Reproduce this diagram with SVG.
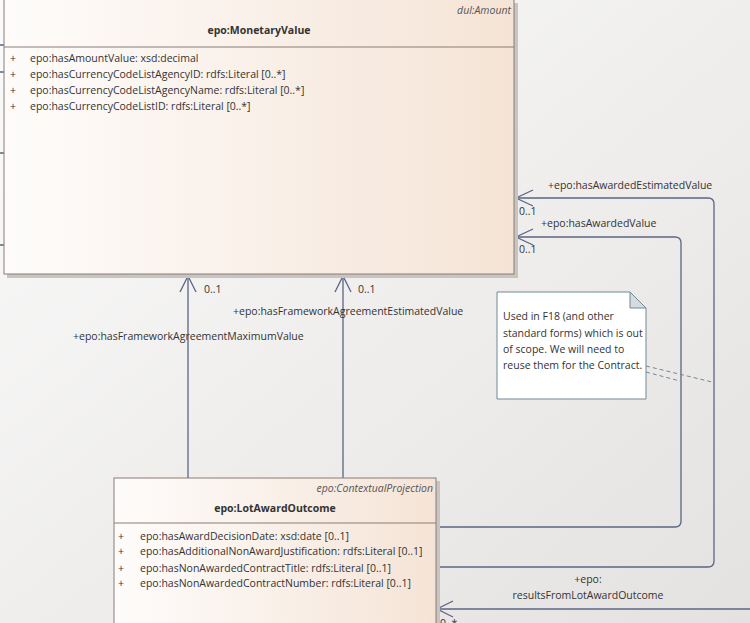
<svg xmlns="http://www.w3.org/2000/svg" width="750" height="623" viewBox="0 0 750 623">
<defs>
<linearGradient id="bg" x1="0" y1="0" x2="1" y2="1"><stop offset="0" stop-color="#fbfbfb"/><stop offset="1" stop-color="#e4e2e0"/></linearGradient>
<linearGradient id="cls" x1="0" y1="0" x2="1" y2="0"><stop offset="0" stop-color="#fefcfb"/><stop offset="1" stop-color="#f5e4d6"/></linearGradient>
<style>
text{font-family:"Open Sans","Liberation Sans",sans-serif;font-size:10.5px;fill:#333}
.b{font-weight:bold}
.i{font-style:italic;fill:#555}
.box{fill:url(#cls);stroke:#8a7c76;stroke-width:1}
.sh{fill:#c8c4c0}
.c{fill:none;stroke:#5b6684;stroke-width:1.3}
.ah{fill:none;stroke:#5b6684;stroke-width:1.3}
</style>
</defs>
<rect width="750" height="623" fill="url(#bg)"/>
<g id="connectors">
<path class="c" d="M188 478V276M343 478V276"/>
<path class="ah" d="M180 292L188 276L196 292M335 292L343 276L351 292"/>
<path class="c" d="M436 527H675Q681 527 681 521V243Q681 237 675 237H516"/>
<path class="c" d="M436 567H708Q714 567 714 561V204Q714 198 708 198H516"/>
<path class="ah" d="M533 229L516 237L533 245M533 190L516 198L533 206"/>
<path class="c" d="M750 609H437"/>
<path class="ah" d="M453 601L437 609L453 617"/>
<path d="M646 366L712 382M646 372L680 381" stroke="#6f8a96" stroke-width="1" stroke-dasharray="4,3" fill="none"/>
<path d="M0 45H4M0 72H4M0 153H4M0 245H4" stroke="#5b6684" stroke-width="1.5"/>
<text x="204" y="293">0..1</text>
<text x="358" y="293">0..1</text>
<text x="233" y="315">+epo:hasFrameworkAgreementEstimatedValue</text>
<text x="73" y="340">+epo:hasFrameworkAgreementMaximumValue</text>
<text x="548" y="189">+epo:hasAwardedEstimatedValue</text>
<text x="519" y="215">0..1</text>
<text x="541" y="227">+epo:hasAwardedValue</text>
<text x="519" y="253">0..1</text>
<text x="588" y="583" text-anchor="middle">+epo:</text>
<text x="588" y="599" text-anchor="middle">resultsFromLotAwardOutcome</text>
<text x="440" y="627">0..*</text>
</g>
<g id="MonetaryValue">
<rect class="sh" x="7" y="3" width="511" height="275"/>
<rect class="box" x="4" y="-1" width="510" height="275"/>
<line x1="4" y1="47" x2="514" y2="47" stroke="#8a7c76"/>
<text class="i" x="511" y="14" text-anchor="end">dul:Amount</text>
<text class="b" x="259" y="34" text-anchor="middle">epo:MonetaryValue</text>
<text x="10" y="62">+</text><text x="30" y="62">epo:hasAmountValue: xsd:decimal</text>
<text x="10" y="78">+</text><text x="30" y="78">epo:hasCurrencyCodeListAgencyID: rdfs:Literal [0..*]</text>
<text x="10" y="94">+</text><text x="30" y="94">epo:hasCurrencyCodeListAgencyName: rdfs:Literal [0..*]</text>
<text x="10" y="110">+</text><text x="30" y="110">epo:hasCurrencyCodeListID: rdfs:Literal [0..*]</text>
</g>
<g id="LotAwardOutcome">
<rect class="sh" x="117" y="481" width="323" height="150"/>
<rect class="box" x="114" y="478" width="322" height="150"/>
<line x1="114" y1="523" x2="436" y2="523" stroke="#8a7c76"/>
<text class="i" x="433" y="492" text-anchor="end">epo:ContextualProjection</text>
<text class="b" x="275" y="512" text-anchor="middle">epo:LotAwardOutcome</text>
<text x="118" y="540">+</text><text x="140" y="540">epo:hasAwardDecisionDate: xsd:date [0..1]</text>
<text x="118" y="555">+</text><text x="140" y="555">epo:hasAdditionalNonAwardJustification: rdfs:Literal [0..1]</text>
<text x="118" y="572">+</text><text x="140" y="572">epo:hasNonAwardedContractTitle: rdfs:Literal [0..1]</text>
<text x="118" y="587">+</text><text x="140" y="587">epo:hasNonAwardedContractNumber: rdfs:Literal [0..1]</text>
</g>
<g id="note">
<path d="M497 292H630L646 308V399H497Z" fill="#fff" stroke="#6f8a96"/>
<path d="M630 292V308H646Z" fill="#d5dbe0" stroke="#6f8a96"/>
<text x="503" y="320">Used in F18 (and other</text>
<text x="503" y="337">standard forms) which is  out</text>
<text x="503" y="353">of scope. We will need to</text>
<text x="503" y="369">reuse them for the Contract.</text>
</g>
</svg>
